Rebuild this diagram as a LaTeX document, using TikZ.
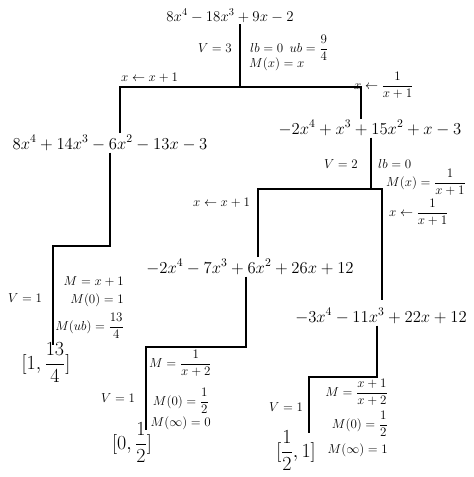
\RequirePackage{fix-cm}
\documentclass[tikz,border=0pt]{standalone}
\usepackage{amsmath}
\begin{document}
\begin{tikzpicture}[x=1pt,y=-1pt,
        poly/.style={anchor=base,inner sep=2pt,font=\fontsize{16.7}{19}\selectfont},
        lbl/.style={inner sep=0pt,font=\fontsize{13}{15}\selectfont},
        ivl/.style={anchor=base,inner sep=1pt,font=\fontsize{20}{22}\selectfont},
        edge/.style={line width=1.1pt}]
        \useasboundingbox (0,0) rectangle (474,477);
        % polynomials
        \node[poly,font=\fontsize{14.9}{17}\selectfont] (p0) at (230,21) {$8x^4-18x^3+9x-2$};
        \node[poly] (p1) at (110,149) {$8x^4+14x^3-6x^2-13x-3$};
        \node[poly] (p2) at (370,134) {$-2x^4+x^3+15x^2+x-3$};
        \node[poly] (p3) at (250,273) {$-2x^4-7x^3+6x^2+26x+12$};
        \node[poly] (p4) at (381,322) {$-3x^4-11x^3+22x+12$};
        % intervals
        \node[ivl] (b1) at (46,369) {$[1,\dfrac{13}{4}]$};
        \node[ivl] (b2) at (132,449) {$[0,\dfrac{1}{2}]$};
        \node[ivl] (b3) at (296,457) {$[\dfrac{1}{2},1]$};
        % corners and ends
        \coordinate (j0) at (240,87);
        \coordinate (e1) at (120,133);
        \coordinate (e2) at (361,119);
        \coordinate (j1) at (110,246);
        \coordinate (e3) at (53,345);
        \coordinate (j2) at (371,189);
        \coordinate (e4) at (258,257);
        \coordinate (e5) at (382,300);
        \coordinate (j3) at (246,347);
        \coordinate (e6) at (146,430);
        \coordinate (j4) at (377,377);
        \coordinate (e7) at (309,433);
        % tree
        \draw[edge] (p0.south -| j0) -- (j0);
        \draw[edge] (e1) |- (j0) -| (e2);
        \draw[edge] (p1.south -| j1) -- (j1) -| (e3);
        \draw[edge] (p2.south -| j2) -- (j2);
        \draw[edge] (e4) |- (j2) -| (e5);
        \draw[edge] (p3.south -| j3) -- (j3) -| (e6);
        \draw[edge] (p4.south -| j4) -- (j4) -| (e7);
        % labels, first level
        \node[lbl,anchor=base east] (v0) at (232,52) {$V=3$};
        \node[lbl,anchor=base west] (lb0) at (250,52) {$lb=0\enspace ub=\dfrac{9}{4}$};
        \node[lbl,anchor=base west] (m0) at (249,67) {$M(x)=x$};
        \node[lbl,anchor=base west] (s0) at (121,81) {$x\leftarrow x+1$};
        \node[lbl,anchor=base west] (t0) at (354,89) {$x\leftarrow \dfrac{1}{x+1}$};
        % labels, second level
        \node[lbl,anchor=base east] (v2) at (358,168) {$V=2$};
        \node[lbl,anchor=base west] (lb2) at (378,168) {$lb=0$};
        \node[lbl,anchor=base west] (m2) at (386,186) {$M(x)=\dfrac{1}{x+1}$};
        \node[lbl,anchor=base west] (s2) at (193,206) {$x\leftarrow x+1$};
        \node[lbl,anchor=base west] (t2) at (389,216) {$x\leftarrow \dfrac{1}{x+1}$};
        % labels, leaves
        \node[lbl,anchor=base west] (v1) at (8,302) {$V=1$};
        \node[lbl,anchor=base east] (m1) at (124,285) {$M=x+1$};
        \node[lbl,anchor=base east] (m1a) at (124,303) {$M(0)=1$};
        \node[lbl,anchor=base east] (m1b) at (124,330) {$M(ub)=\dfrac{13}{4}$};
        \node[lbl,anchor=base west] (v3) at (101,402) {$V=1$};
        \node[lbl,anchor=base west] (m3) at (149,367) {$M=\dfrac{1}{x+2}$};
        \node[lbl,anchor=base east] (m3a) at (209,405) {$M(0)=\dfrac{1}{2}$};
        \node[lbl,anchor=base east] (m3b) at (211,426) {$M(\infty)=0$};
        \node[lbl,anchor=base west] (v4) at (269,411) {$V=1$};
        \node[lbl,anchor=base east] (m4) at (388,396) {$M=\dfrac{x+1}{x+2}$};
        \node[lbl,anchor=base east] (m4a) at (388,428) {$M(0)=\dfrac{1}{2}$};
        \node[lbl,anchor=base east] (m4b) at (388,453) {$M(\infty)=1$};
    \end{tikzpicture}
\end{document}
